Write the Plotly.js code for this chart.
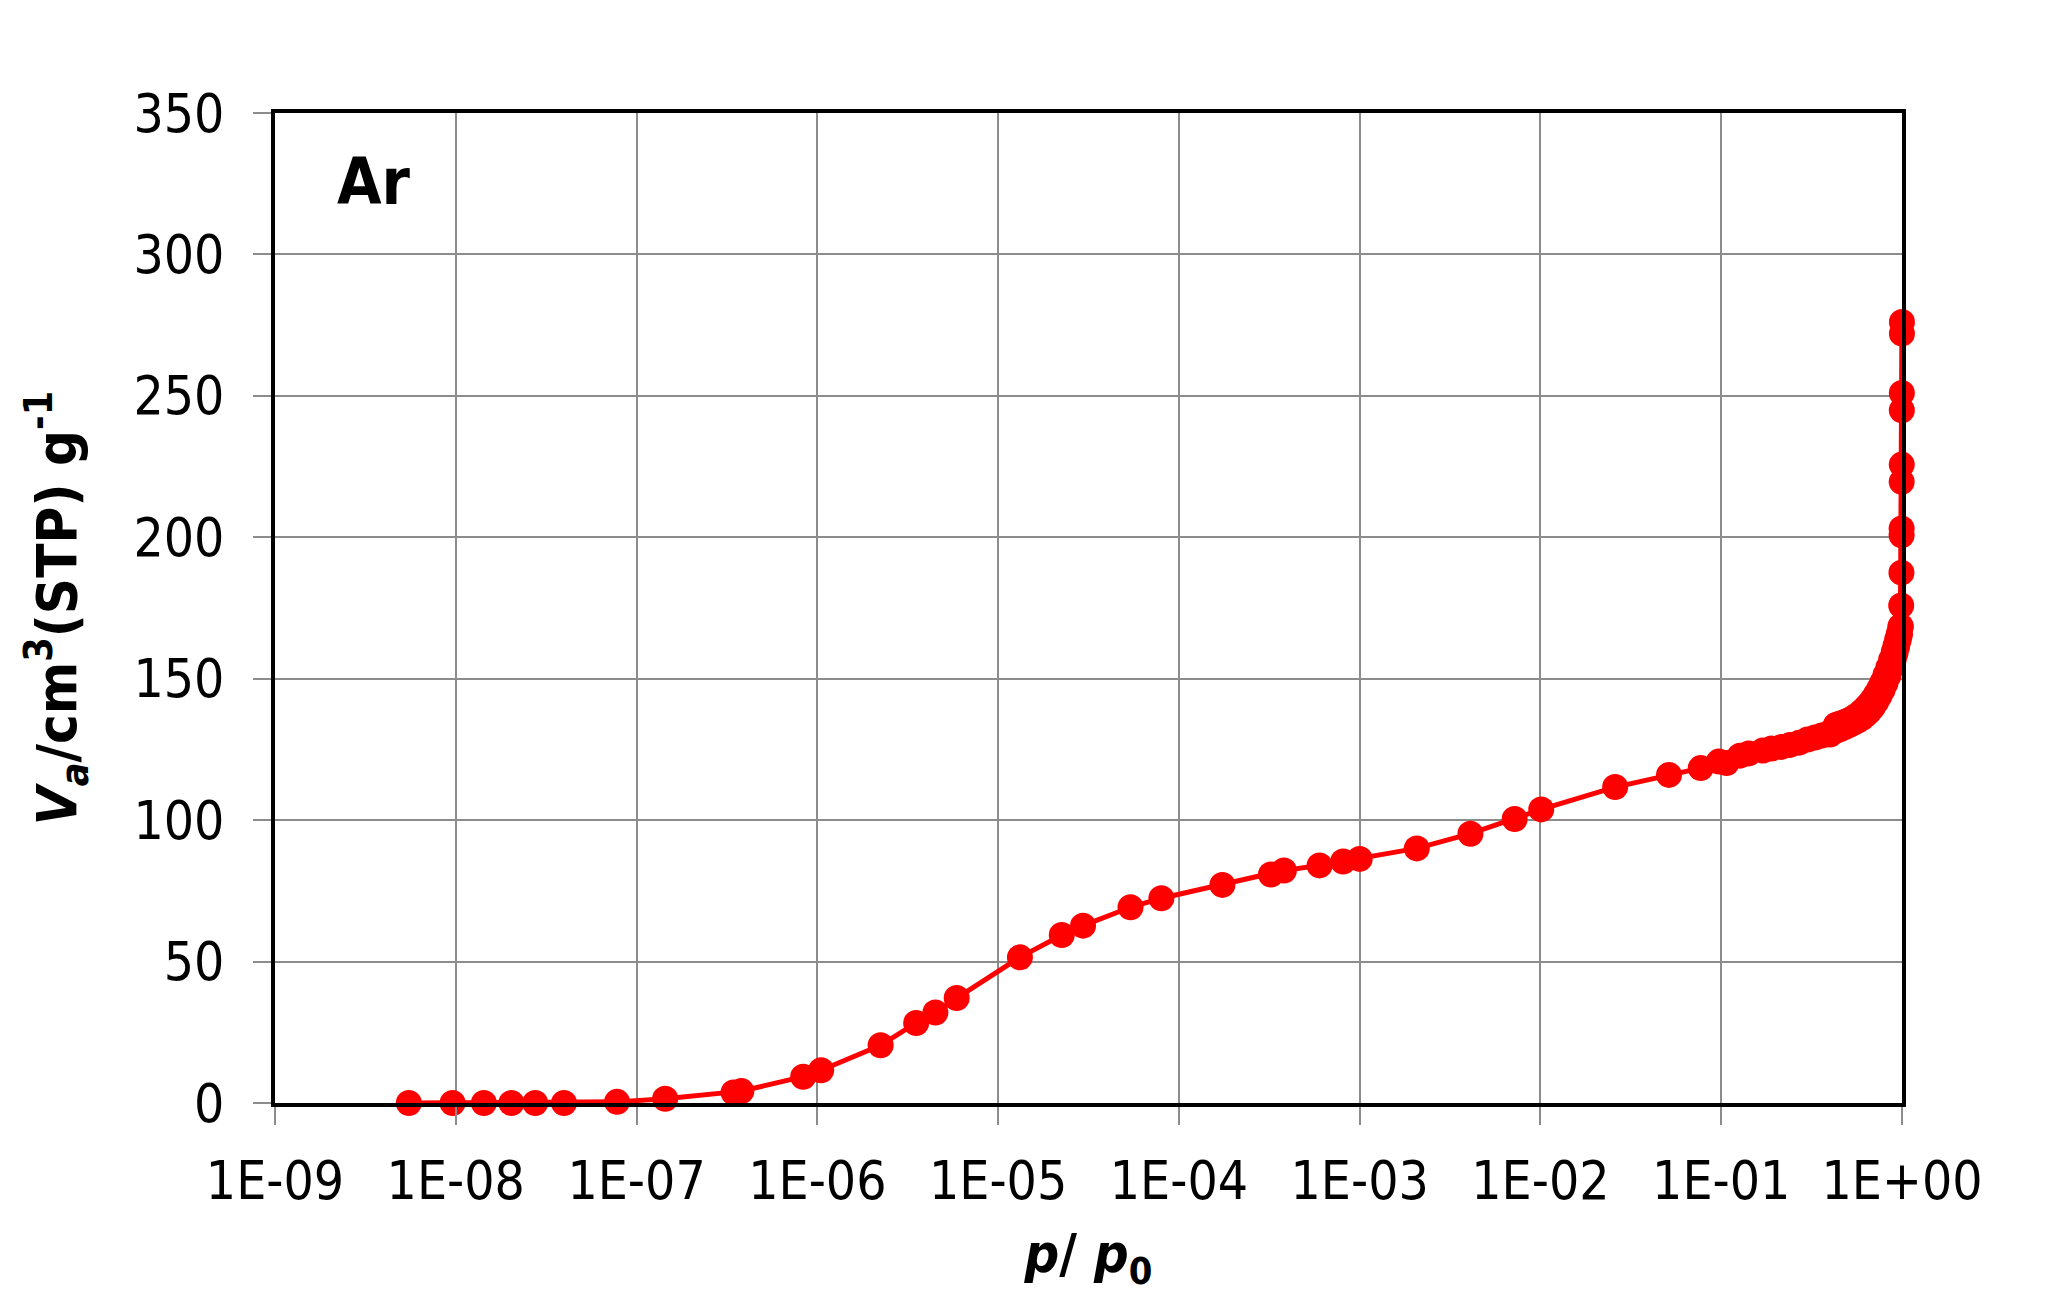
<!DOCTYPE html>
<html>
<head>
<meta charset="utf-8">
<script src="https://cdn.plot.ly/plotly-3.0.1.min.js"></script>
<style>
html,body{margin:0;padding:0;background:#fff;}
#chart{width:2060px;height:1314px;}
</style>
</head>
<body>
<div id="chart"></div>
<script>
// Relative pressure p/p0 (adsorption branch, then desorption branch)
var relPressure = [
  5.5e-9, 9.6e-9, 1.43e-8, 2.03e-8, 2.75e-8, 3.97e-8, 7.8e-8, 1.44e-7, 3.44e-7, 3.8e-7,
  8.35e-7, 1.05e-6, 2.24e-6, 3.52e-6, 4.5e-6, 5.9e-6, 1.32e-5, 2.25e-5, 2.95e-5, 5.4e-5,
  8.0e-5, 1.74e-4, 3.23e-4, 3.81e-4, 6.0e-4, 8.1e-4, 1.0e-3, 2.07e-3, 4.1e-3, 7.2e-3,
  1.01e-2, 2.59e-2, 5.14e-2, 7.7e-2, 9.7e-2, 0.107, 0.127, 0.142, 0.17, 0.19,
  0.215, 0.24, 0.27, 0.30, 0.33, 0.36, 0.39, 0.42, 0.45, 0.48,
  0.51, 0.54, 0.57, 0.60, 0.63, 0.66, 0.69, 0.72, 0.75, 0.78,
  0.81, 0.84, 0.87, 0.90, 0.92, 0.94, 0.96, 0.975, 0.985, 0.99,
  0.993, 0.995, 0.995, 0.996, 0.997, 0.998, 0.998, 0.999, 0.999,
  0.98, 0.96, 0.94, 0.92, 0.90, 0.87, 0.84, 0.81, 0.78, 0.75,
  0.72, 0.69, 0.66, 0.63, 0.60, 0.57, 0.54, 0.51, 0.48, 0.45,
  0.43, 0.42, 0.40
];
// Adsorbed volume Va / cm3(STP) g-1
var adsorbedVolume = [
  0, 0, 0, 0, 0, 0, 0.4, 1.5, 3.7, 4.2,
  9.3, 11.6, 20.4, 28.3, 32.0, 37.1, 51.5, 59.4, 62.7, 69.2,
  72.4, 77.1, 80.8, 82.2, 84.0, 85.4, 86.3, 90.0, 95.2, 100.4,
  103.8, 111.7, 116.0, 118.4, 120.7, 120.2, 122.8, 123.6, 124.6, 125.3,
  125.9, 126.6, 127.4, 128.5, 129.2, 129.9, 130.6, 131.3, 132.0, 132.8,
  133.6, 134.4, 135.2, 136.1, 137.2, 138.5, 140.0, 141.9, 143.9, 146.0,
  148.4, 151.0, 153.8, 156.9, 159.0, 161.4, 163.8, 165.8, 168.5, 175.9,
  187.5, 200.7, 203.1, 219.6, 225.7, 244.9, 251.0, 272.0, 276.1,
  168.5, 166.0, 163.8, 161.6, 159.5, 156.6, 153.9, 151.3, 148.8, 146.6,
  144.6, 142.8, 141.2, 139.8, 138.5, 137.3, 136.3, 135.4, 134.7, 134.1,
  133.6, 131.5, 130.3
];
var xTickValues = [1e-9, 1e-8, 1e-7, 1e-6, 1e-5, 1e-4, 1e-3, 1e-2, 1e-1, 1];
var xTickLabels = ['1E-09', '1E-08', '1E-07', '1E-06', '1E-05', '1E-04', '1E-03', '1E-02', '1E-01', '1E+00'];
var gasLabel = 'Ar';

var FONT = '"DejaVu Sans Condensed", "Liberation Sans Narrow", "DejaVu Sans", sans-serif';

var trace = {
  x: relPressure,
  y: adsorbedVolume,
  type: 'scatter',
  mode: 'lines+markers',
  line: {color: '#ff0000', width: 5},
  marker: {color: '#ff0000', size: 26, line: {width: 0}},
  cliponaxis: false,
  showlegend: false
};

var layout = {
  width: 2060,
  height: 1314,
  paper_bgcolor: '#ffffff',
  plot_bgcolor: '#ffffff',
  margin: {l: 275, r: 158, t: 113, b: 211},
  font: {family: FONT, color: '#000000', size: 53},
  xaxis: {
    type: 'log',
    range: [-9, 0],
    tickvals: xTickValues,
    ticktext: xTickLabels,
    ticks: 'outside',
    ticklen: 18,
    tickwidth: 2,
    tickcolor: '#8c8c8c',
    ticklabelstandoff: 10,
    tickfont: {family: FONT, size: 53, color: '#000'},
    showgrid: true,
    gridcolor: '#8c8c8c',
    gridwidth: 2,
    showline: true,
    linecolor: '#000000',
    linewidth: 4,
    mirror: true,
    zeroline: false,
    automargin: false,
    title: {
      text: '<b><i>p</i>/ <i>p</i><sub>0</sub></b>',
      font: {family: FONT, size: 54, color: '#000'},
      standoff: 26
    }
  },
  yaxis: {
    range: [0, 350],
    dtick: 50,
    ticks: 'outside',
    ticklen: 18,
    tickwidth: 2,
    tickcolor: '#8c8c8c',
    ticklabelstandoff: 18,
    tickfont: {family: FONT, size: 53, color: '#000'},
    showgrid: true,
    gridcolor: '#8c8c8c',
    gridwidth: 2,
    showline: true,
    linecolor: '#000000',
    linewidth: 4,
    mirror: true,
    zeroline: false,
    automargin: false,
    title: {
      text: '<b><i>V</i><sub><i>a</i></sub>/cm<sup>3</sup>(STP) g<sup>-1</sup></b>',
      font: {family: FONT, size: 56, color: '#000'},
      standoff: 40
    }
  },
  annotations: [{
    text: '<b>' + gasLabel + '</b>',
    xref: 'paper', yref: 'paper',
    x: 0.0608, y: 0.930,
    xanchor: 'center', yanchor: 'middle',
    showarrow: false,
    font: {family: FONT, size: 64, color: '#000'}
  }]
};

Plotly.newPlot('chart', [trace], layout, {displayModeBar: false, staticPlot: true});
</script>
</body>
</html>
